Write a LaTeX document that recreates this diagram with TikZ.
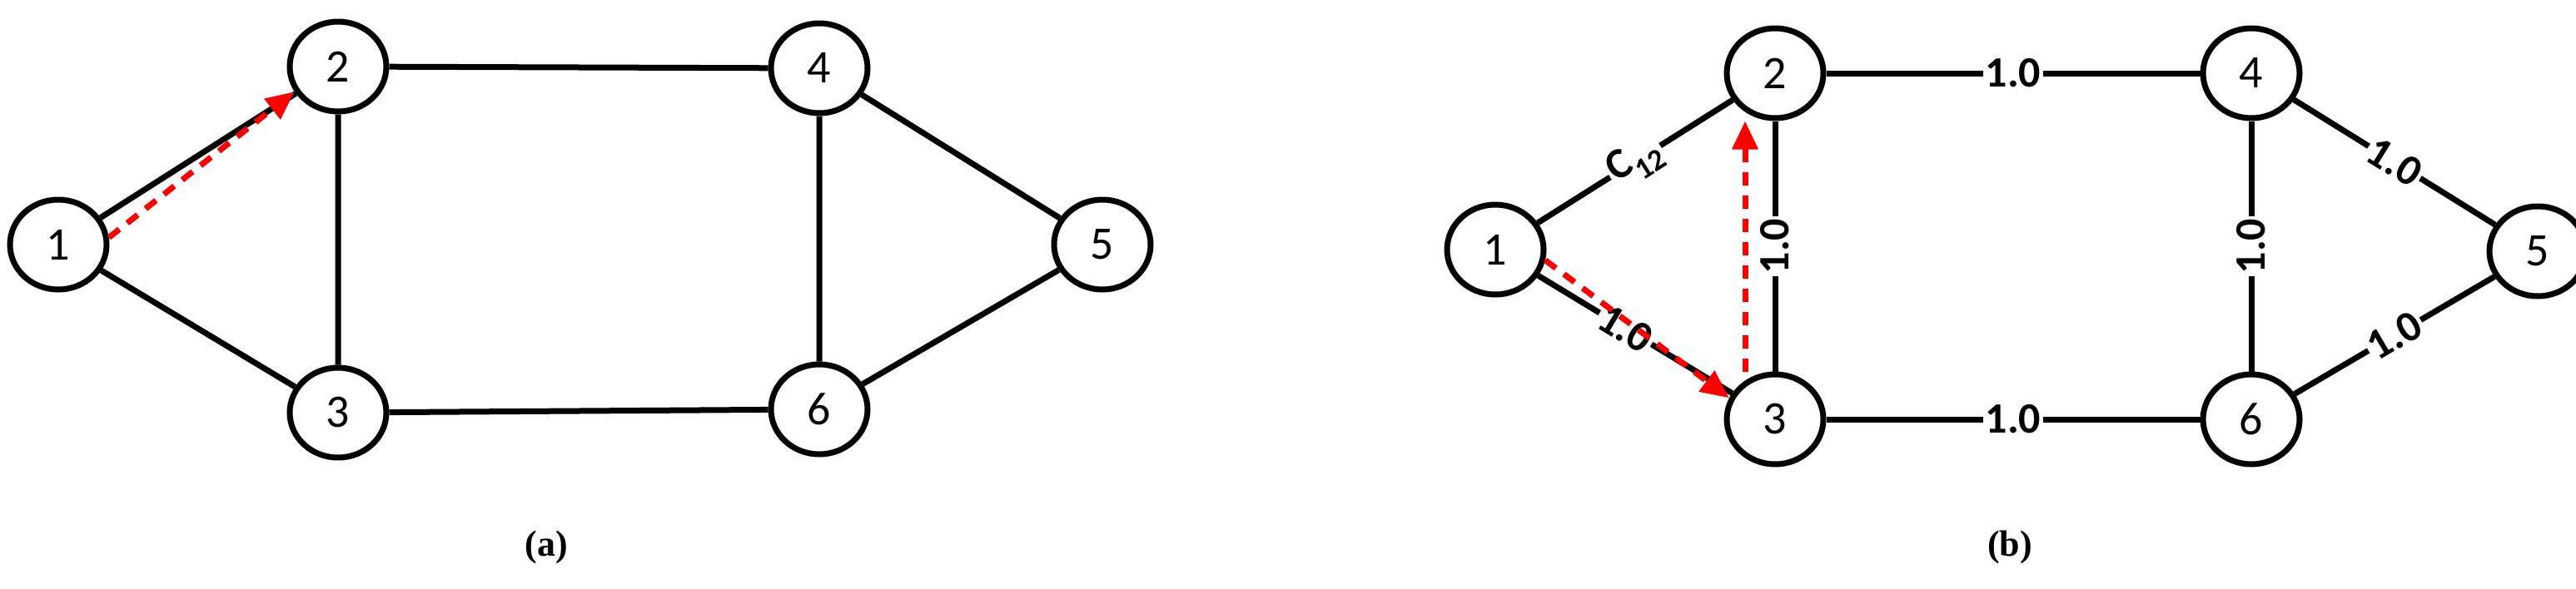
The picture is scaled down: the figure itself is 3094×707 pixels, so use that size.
\documentclass[tikz,border=0pt]{standalone}
\usepackage{fontspec}
\setmainfont{Carlito}
\newfontfamily\capfont{Liberation Serif}
\usetikzlibrary{arrows.meta,shapes.geometric}
\begin{document}
\begin{tikzpicture}[x=1pt,y=-1pt,
  vtx/.style={draw,line width=7pt,ellipse,minimum width=116pt,minimum height=108pt,inner sep=0pt,font=\fontsize{56}{56}\selectfont,fill=white},
  edge/.style={line width=7pt},
  lab/.style={fill=white,inner sep=3pt,font=\fontsize{52}{52}\selectfont\bfseries,sloped},
  redarrow/.style={draw=red,line width=7pt,dash pattern=on 16pt off 12pt,-{Triangle[length=34pt,width=30pt]}},
  captext/.style={font=\capfont\bfseries\fontsize{44}{44}\selectfont}]
\useasboundingbox (0,0) rectangle (3094,707);
% (a)
\node[vtx] (a1) at (70,294) {1};
\node[vtx] (a2) at (406,80) {2};
\node[vtx] (a3) at (406,496) {3};
\node[vtx] (a4) at (984,82) {4};
\node[vtx] (a6) at (984,492) {6};
\node[vtx] (a5) at (1324,294) {5};
\draw[edge] (a1)--(a2) (a1)--(a3) (a2)--(a3) (a2)--(a4) (a3)--(a6) (a4)--(a6) (a4)--(a5) (a6)--(a5);
\draw[redarrow] (a1.8) -- (a2.-150);
\node[captext] (ca) at (656,658) {(a)};
% (b)
\node[vtx] (b1) at (1796,300) {1};
\node[vtx] (b2) at (2132,88) {2};
\node[vtx] (b3) at (2132,504) {3};
\node[vtx] (b4) at (2704,88) {4};
\node[vtx] (b6) at (2704,504) {6};
\node[vtx] (b5) at (3048,302) {5};
\draw[edge] (b1)-- node[lab]{C\textsubscript{12}} (b2);
\draw[edge] (b1)-- node[lab,pos=0.45]{1.0} (b3);
\draw[edge] (b2)-- node[lab,rotate=180]{1.0} (b3);
\draw[edge] (b2)-- node[lab]{1.0} (b4);
\draw[edge] (b3)-- node[lab]{1.0} (b6);
\draw[edge] (b4)-- node[lab,rotate=180]{1.0} (b6);
\draw[edge] (b4)-- node[lab]{1.0} (b5);
\draw[edge] (b6)-- node[lab]{1.0} (b5);
\draw[redarrow] (b1.-12) -- (b3.155);
\draw[redarrow] ([xshift=-36pt]b3.north) -- ([xshift=-36pt]b2.south);
\node[captext] (cb) at (2414,658) {(b)};
\end{tikzpicture}
\end{document}
